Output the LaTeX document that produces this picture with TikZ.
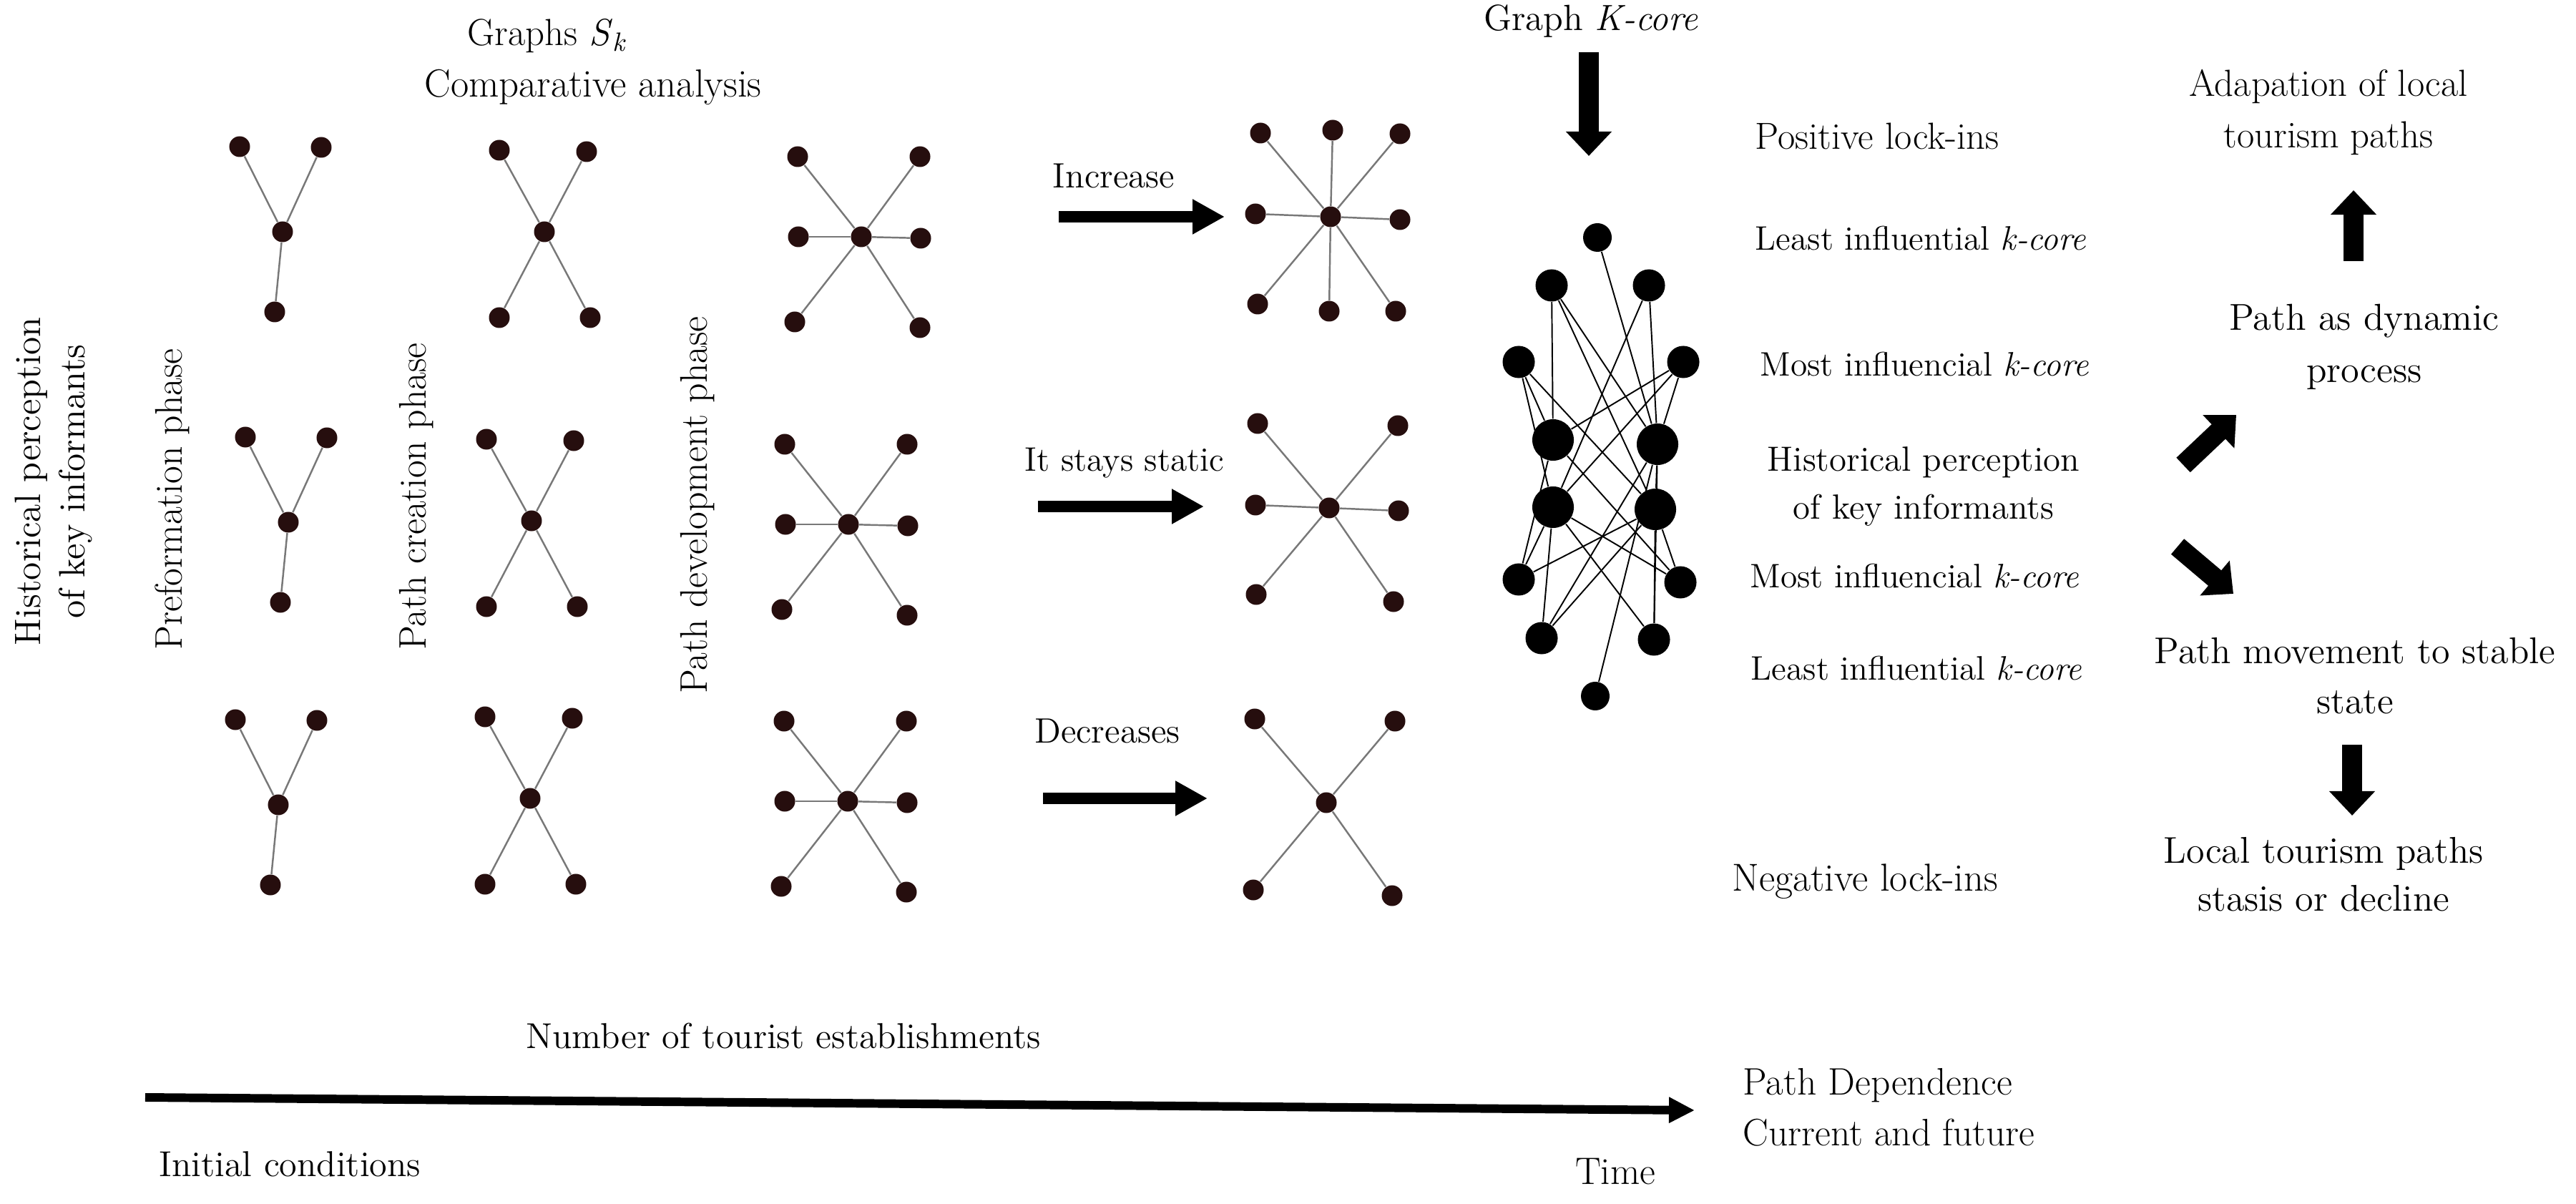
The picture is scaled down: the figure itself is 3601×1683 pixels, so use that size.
\documentclass[tikz,border=0pt]{standalone}
\usetikzlibrary{arrows.meta}
\definecolor{dotbrown}{RGB}{38,14,14}
\definecolor{spokegray}{RGB}{120,120,120}
\begin{document}
\begin{tikzpicture}[x=0.01cm, y=-0.01cm,
    dot/.style={circle, fill=dotbrown, inner sep=0pt, minimum size=0.29cm},
    spoke/.style={draw=spokegray, line width=0.7pt},
    kdot/.style={circle, fill=black, inner sep=0pt, minimum size=0.45cm},
    kbig/.style={kdot, minimum size=0.58cm},
    kedge/.style={draw=black, line width=0.55pt},
    lbl/.style={inner sep=0pt, align=center},
    phase/.style={lbl, rotate=90, font=\fontsize{15.3}{18}\selectfont},
    flatarrow/.style={line width=4.3pt, -{Triangle[length=0.45cm, width=0.46cm]}},
    blockarrow/.style={line width=8pt, -{Triangle[length=0.34cm, width=0.62cm]}}
  ]
  \useasboundingbox (0,0) rectangle (3601,1683);

  % Headings
  \node[lbl, font=\fontsize{15}{18}\selectfont] (graphs) at (765,50) {Graphs \textit{S}\textsubscript{\textit{k}}};
  \node[lbl, font=\fontsize{15.6}{18}\selectfont] (comp) at (829,122) {Comparative analysis};
  \node[lbl, rotate=90, font=\fontsize{14.6}{17.5}\selectfont] (hist) at (75,673) {Historical perception\\of key informants};

  % Phases
  \node[phase] (pre) at (241,698) {Preformation phase};
  \node[phase] (cre) at (582,694) {Path creation phase};
  \node[phase] (dev) at (975,706) {Path development phase};

  % Preformation graphs
  \foreach \r/\cx/\cy in {1/395/324, 2/403/730, 3/389/1125} {
    \node[dot] (pre\r) at (\cx,\cy) {};
    \foreach \l/\dx/\dy in {a/-60/-119, b/54/-118, c/-11/112} {
      \node[dot] (pre\r\l) at (\cx+\dx,\cy+\dy) {};
      \draw[spoke] (pre\r) -- (pre\r\l);
    }
  }

  % Path creation graphs
  \foreach \r/\cx/\cy in {1/761/324, 2/743/728, 3/741/1116} {
    \node[dot] (cre\r) at (\cx,\cy) {};
    \foreach \l/\dx/\dy in {a/-63/-114, b/59/-112, c/-63/120, d/64/120} {
      \node[dot] (cre\r\l) at (\cx+\dx,\cy+\dy) {};
      \draw[spoke] (cre\r) -- (cre\r\l);
    }
  }

  % Path development graphs
  \foreach \r/\cx/\cy in {1/1204/331, 2/1186/733, 3/1185/1120} {
    \node[dot] (dev\r) at (\cx,\cy) {};
    \foreach \l/\dx/\dy in {a/-89/-112, b/82/-112, c/-88/0, d/83/2, e/-93/119, f/82/127} {
      \node[dot] (dev\r\l) at (\cx+\dx,\cy+\dy) {};
      \draw[spoke] (dev\r) -- (dev\r\l);
    }
  }

  % Resulting graphs
  \node[dot] (res1) at (1860,303) {};
  \foreach \l/\dx/\dy in {a/-98/-117, b/3/-121, c/97/-116, d/-105/-4, e/97/4, f/-102/122, g/-2/132, h/91/132} {
    \node[dot] (res1\l) at (1860+\dx,303+\dy) {};
    \draw[spoke] (res1) -- (res1\l);
  }
  \node[dot] (res2) at (1858,710) {};
  \foreach \l/\dx/\dy in {a/-100/-118, b/96/-115, c/-103/-4, d/97/4, e/-102/121, f/90/131} {
    \node[dot] (res2\l) at (1858+\dx,710+\dy) {};
    \draw[spoke] (res2) -- (res2\l);
  }
  \node[dot] (res3) at (1854,1122) {};
  \foreach \l/\dx/\dy in {a/-100/-117, b/96/-114, c/-102/122, d/92/130} {
    \node[dot] (res3\l) at (1854+\dx,1122+\dy) {};
    \draw[spoke] (res3) -- (res3\l);
  }

  % Change arrows
  \node[lbl, font=\fontsize{14}{17}\selectfont] (inc) at (1557,246) {Increase};
  \node[lbl, font=\fontsize{13.5}{17}\selectfont] (stat) at (1572,647) {It stays static};
  \node[lbl, font=\fontsize{14}{17}\selectfont] (decr) at (1548,1022) {Decreases};
  \coordinate (inc-a) at (1480,303);  \coordinate (inc-b) at (1712,303);
  \coordinate (stat-a) at (1451,708); \coordinate (stat-b) at (1683,708);
  \coordinate (decr-a) at (1458,1116); \coordinate (decr-b) at (1688,1116);
  \draw[flatarrow] (inc-a) -- (inc-b);
  \draw[flatarrow] (stat-a) -- (stat-b);
  \draw[flatarrow] (decr-a) -- (decr-b);

  % K-core graph
  \node[lbl, font=\fontsize{14.5}{17}\selectfont] (kcore) at (2224,30) {Graph \textit{K-core}};
  \coordinate (kc-a) at (2221,73); \coordinate (kc-b) at (2221,218);
  \draw[blockarrow] (kc-a) -- (kc-b);
  \node[kdot, minimum size=0.4cm] (k1) at (2233,332) {};
  \node[kdot, minimum size=0.4cm] (k14) at (2230,973) {};
  \foreach \n/\px/\py in {2/2169/399, 3/2305/399, 4/2123/506, 5/2353/506, 10/2123/810, 11/2349/814, 12/2155/892, 13/2312/894}
    \node[kdot] (k\n) at (\px,\py) {};
  \foreach \n/\px/\py in {6/2171/615, 7/2317/621, 8/2171/709, 9/2314/712}
    \node[kbig] (k\n) at (\px,\py) {};
  \foreach \a/\b in {1/7, 2/6, 2/7, 2/9, 3/7, 3/8, 4/6, 4/8, 4/9, 5/6, 5/7, 5/8,
                     6/10, 6/11, 7/9, 7/12, 7/13, 7/14, 8/10, 8/11, 8/12, 8/13,
                     9/10, 9/11, 9/12, 9/13}
    \draw[kedge] (k\a) -- (k\b);

  % K-core labels
  \node[lbl, anchor=west, font=\fontsize{15}{18}\selectfont] (poslock) at (2453,190) {Positive lock-ins};
  \node[lbl, anchor=west, font=\fontsize{13.5}{17}\selectfont] (least1) at (2453,333) {Least influential \textit{k-core}};
  \node[lbl, anchor=west, font=\fontsize{13.5}{17}\selectfont] (most1) at (2460,509) {Most influencial \textit{k-core}};
  \node[lbl, font=\fontsize{13.9}{18.8}\selectfont] (hist2) at (2689,680) {Historical perception\\of key informants};
  \node[lbl, anchor=west, font=\fontsize{13.5}{17}\selectfont] (most2) at (2446,805) {Most influencial \textit{k-core}};
  \node[lbl, anchor=west, font=\fontsize{13.5}{17}\selectfont] (least2) at (2447,934) {Least influential \textit{k-core}};
  \node[lbl, anchor=west, font=\fontsize{15.5}{18}\selectfont] (neglock) at (2421,1232) {Negative lock-ins};

  % Path outcomes
  \node[lbl, font=\fontsize{15}{20.7}\selectfont] (adapt) at (3255,157) {Adapation of local\\tourism paths};
  \node[lbl, font=\fontsize{14.9}{20.7}\selectfont] (dyn) at (3305,485) {Path as dynamic\\process};
  \node[lbl, font=\fontsize{14.8}{20}\selectfont] (stable) at (3292,945) {Path movement to stable\\state};
  \node[lbl, font=\fontsize{14.8}{19}\selectfont] (decline) at (3248,1222) {Local tourism paths\\stasis or decline};
  \coordinate (up-a) at (3290,365);  \coordinate (up-b) at (3290,266);
  \coordinate (ne-a) at (3052,650);  \coordinate (ne-b) at (3126,580);
  \coordinate (se-a) at (3044,764);  \coordinate (se-b) at (3122,830);
  \coordinate (dn-a) at (3288,1041); \coordinate (dn-b) at (3288,1140);
  \draw[blockarrow] (up-a) -- (up-b);
  \draw[blockarrow] (ne-a) -- (ne-b);
  \draw[blockarrow] (se-a) -- (se-b);
  \draw[blockarrow] (dn-a) -- (dn-b);

  % Time line
  \node[lbl, anchor=west, font=\fontsize{14.3}{17}\selectfont] (num) at (735,1448) {Number of tourist establishments};
  \node[lbl, anchor=west, font=\fontsize{14.3}{17}\selectfont] (init) at (222,1627) {Initial conditions};
  \node[lbl, font=\fontsize{15.2}{18}\selectfont] (time) at (2258,1638) {Time};
  \node[lbl, anchor=west, align=left, font=\fontsize{15.2}{20.2}\selectfont] (dep) at (2436,1548) {Path Dependence\\Current and future};
  \coordinate (t0) at (203,1534); \coordinate (t1) at (2369,1552);
  \draw[line width=3.4pt, -{Triangle[length=0.36cm, width=0.34cm]}] (t0) -- (t1);
\end{tikzpicture}
\end{document}
